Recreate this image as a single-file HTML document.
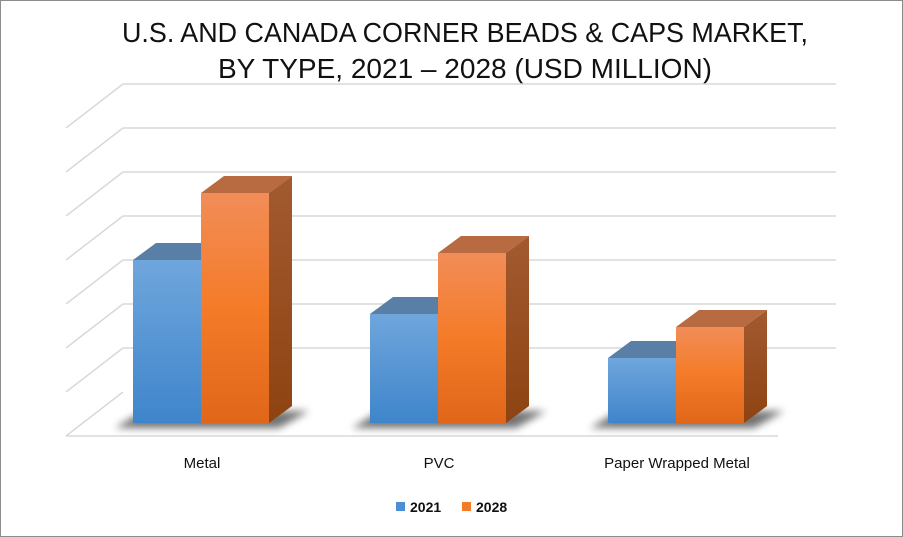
<!DOCTYPE html>
<html><head><meta charset="utf-8"><style>
html,body{margin:0;padding:0;background:#fff}
svg{display:block;font-family:"Liberation Sans",sans-serif}
</style></head><body>
<svg id="chart" width="903" height="537" viewBox="0 0 903 537" xmlns="http://www.w3.org/2000/svg">
<defs>
<linearGradient id="gb" x1="0" y1="0" x2="0" y2="1"><stop offset="0" stop-color="#6fa6dc"/><stop offset="1" stop-color="#3f85cb"/></linearGradient>
<linearGradient id="go" x1="0" y1="0" x2="0" y2="1"><stop offset="0" stop-color="#f28d58"/><stop offset="0.5" stop-color="#f47b28"/><stop offset="1" stop-color="#e0661a"/></linearGradient>
<linearGradient id="gos" x1="0" y1="0" x2="0" y2="1"><stop offset="0" stop-color="#a25a30"/><stop offset="1" stop-color="#8e4311"/></linearGradient>
<filter id="sh" x="-30%" y="-100%" width="160%" height="300%"><feGaussianBlur stdDeviation="4"/></filter>
</defs>
<rect x="0.5" y="0.5" width="902" height="536" fill="#fff" stroke="#8c8c8c"/>
<text x="465" y="42" font-size="28" text-anchor="middle" textLength="686" lengthAdjust="spacingAndGlyphs" fill="#111">U.S. AND CANADA CORNER BEADS &amp; CAPS MARKET,</text>
<text x="465" y="78" font-size="28" text-anchor="middle" textLength="494" lengthAdjust="spacingAndGlyphs" fill="#111">BY TYPE, 2021 – 2028 (USD MILLION)</text>
<g id="grid"></g>
<g id="bars"></g>
<g id="labels"></g>
<g>
<rect x="396" y="502" width="9" height="9" fill="#4a8fd6"/>
<text x="410" y="512" font-size="14" font-weight="bold" fill="#111">2021</text>
<rect x="462" y="502" width="9" height="9" fill="#f47b28"/>
<text x="476" y="512" font-size="14" font-weight="bold" fill="#111">2028</text>
</g>
</svg>
<script>
const categories = ["Metal", "PVC", "Paper Wrapped Metal"];
const values2021 = [16.3, 10.9, 6.5];
const values2028 = [23.0, 17.0, 9.6];
const gridTicks = [0, 4.4, 8.8, 13.2, 17.6, 22.0, 26.4, 30.8];

const NS = "http://www.w3.org/2000/svg";
const base = 423, pxPer = 10, dx = 23, dy = -17;
const y = v => base - v * pxPer;
const catX = [133, 370, 608];
const bw = 68;
function mk(tag, attrs, parent) {
  const e = document.createElementNS(NS, tag);
  for (const k in attrs) e.setAttribute(k, attrs[k]);
  parent.appendChild(e);
  return e;
}
const grid = document.getElementById('grid');
gridTicks.forEach((t, i) => {
  const yb = 436 - t * pxPer - 44 * (i === 0 ? 1 : 0) * 0;
  const backY = 392 - t * pxPer;
  const frontY = backY + 44;
  if (i > 0) {
    const l = mk('line', {x1: 123, y1: backY, x2: 836, y2: backY, stroke: '#d9d9d9', 'stroke-width': 1.5}, grid);
    
    
  }
  const d = mk('line', {x1: 66, y1: frontY, x2: 123, y2: backY, stroke: '#d9d9d9', 'stroke-width': 1.5}, grid);
  
  
});
const floor = mk('line', {x1: 66, y1: 436, x2: 778, y2: 436, stroke: '#d9d9d9', 'stroke-width': 1.5}, grid);



const bars = document.getElementById('bars');
function bar3d(x, v, front, top, side, name) {
  const g = mk('g', {}, bars);
  
  
  const yt = y(v);
  mk('polygon', {points: `${x},${yt} ${x+dx},${yt+dy} ${x+bw+dx},${yt+dy} ${x+bw},${yt}`, fill: top}, g);
  mk('polygon', {points: `${x+bw},${yt} ${x+bw+dx},${yt+dy} ${x+bw+dx},${base+dy} ${x+bw},${base}`, fill: side}, g);
  mk('rect', {x: x, y: yt, width: bw, height: base - yt, fill: front}, g);
}
categories.forEach((c, i) => {
  const x = catX[i];
  const s = mk('polygon', {points: `${x-18},${base+5} ${x+2*bw+10},${base+5} ${x+2*bw+40},${base-12} ${x+10},${base-12}`, fill: '#000', opacity: 0.55, filter: 'url(#sh)'}, bars);
  
  
  bar3d(x, values2021[i], 'url(#gb)', '#5a7fa6', '#3d6aa0', 'bar-2021-' + i);
  bar3d(x + bw, values2028[i], 'url(#go)', '#b86a40', 'url(#gos)', 'bar-2028-' + i);
  const t = mk('text', {x: x + bw + 1, y: 468, 'font-size': 15, 'text-anchor': 'middle', fill: '#111'}, document.getElementById('labels'));
  
  
  t.textContent = c;
});
</script>
</body></html>
